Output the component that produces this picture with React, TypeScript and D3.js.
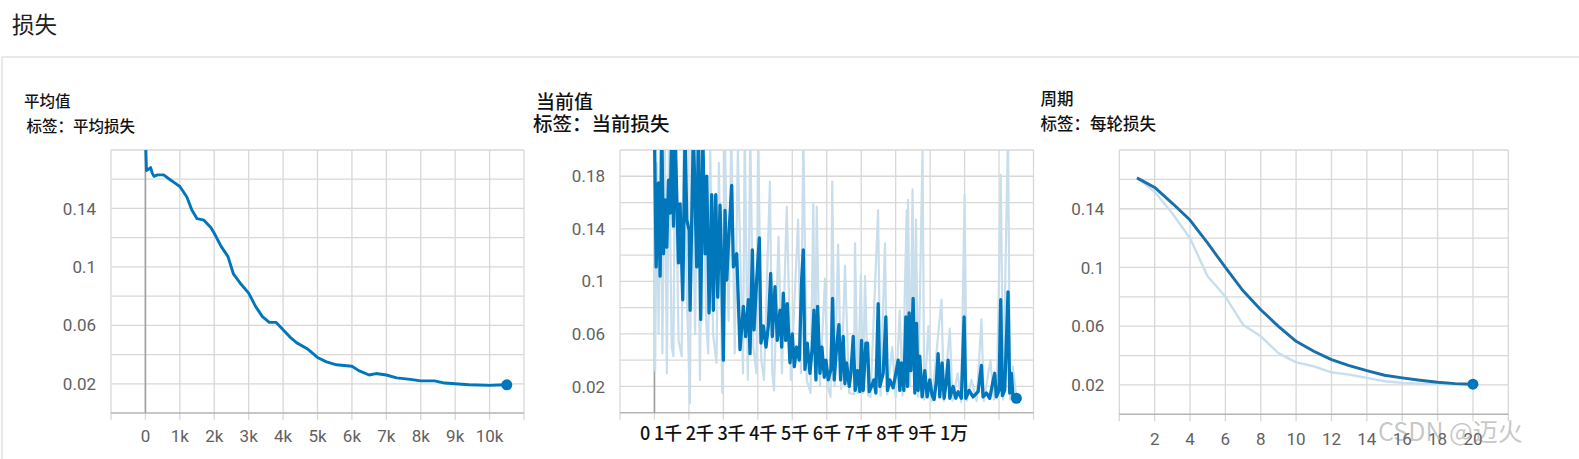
import React from 'react';
import * as d3 from 'd3';

// ---------- data ----------
const avgSteps = [0, 30, 100, 150, 200, 250, 350, 530, 700, 820, 1000, 1200, 1350, 1500, 1700, 1900, 2000, 2200, 2400, 2560, 2750, 3000, 3200, 3400, 3600, 3800, 4000, 4200, 4400, 4700, 5000, 5260, 5550, 6000, 6200, 6500, 6700, 7000, 7300, 7700, 8000, 8400, 8700, 9000, 9400, 10000, 10500];
const avgValues = [0.19, 0.166, 0.167, 0.168, 0.164, 0.162, 0.163, 0.163, 0.16, 0.158, 0.155, 0.148, 0.139, 0.133, 0.132, 0.127, 0.123, 0.114, 0.107, 0.095, 0.089, 0.082, 0.073, 0.066, 0.062, 0.062, 0.057, 0.052, 0.048, 0.044, 0.038, 0.035, 0.033, 0.032, 0.029, 0.026, 0.027, 0.026, 0.024, 0.023, 0.022, 0.022, 0.0205, 0.02, 0.0193, 0.0189, 0.0193];

const curSteps = [0, 48, 116, 164, 213, 261, 309, 357, 406, 454, 502, 551, 599, 696, 744, 821, 889, 937, 1005, 1034, 1130, 1227, 1275, 1343, 1401, 1469, 1517, 1585, 1662, 1710, 1778, 1836, 1903, 1952, 2000, 2048, 2097, 2164, 2241, 2290, 2387, 2483, 2580, 2647, 2725, 2773, 2841, 2889, 2966, 3044, 3092, 3159, 3237, 3304, 3372, 3420, 3498, 3565, 3643, 3691, 3739, 3807, 3855, 3932, 4000, 4058, 4126, 4203, 4271, 4319, 4367, 4435, 4512, 4580, 4628, 4686, 4734, 4802, 4860, 4928, 4976, 5044, 5121, 5169, 5217, 5285, 5353, 5401, 5478, 5527, 5575, 5652, 5701, 5768, 5826, 5894, 5961, 6010, 6058, 6135, 6184, 6232, 6300, 6367, 6425, 6493, 6541, 6638, 6715, 6763, 6831, 6928, 7005, 7073, 7121, 7169, 7237, 7295, 7343, 7391, 7440, 7507, 7556, 7604, 7652, 7700, 7768, 7845, 7913, 7990, 8058, 8116, 8184, 8232, 8280, 8348, 8406, 8473, 8522, 8570, 8667, 8744, 8812, 8908, 8986, 9034, 9131, 9247, 9392, 9488, 9536, 9633, 9730, 9826, 9875, 9923, 10000, 10048, 10097, 10164, 10261, 10309, 10358, 10406, 10503];
const curValues = [0.215, 0.111, 0.175, 0.104, 0.215, 0.121, 0.162, 0.126, 0.177, 0.152, 0.215, 0.142, 0.215, 0.114, 0.159, 0.086, 0.215, 0.147, 0.139, 0.078, 0.215, 0.111, 0.215, 0.071, 0.215, 0.121, 0.18, 0.076, 0.166, 0.078, 0.166, 0.088, 0.158, 0.111, 0.04, 0.154, 0.101, 0.137, 0.173, 0.111, 0.121, 0.048, 0.081, 0.058, 0.086, 0.045, 0.124, 0.063, 0.101, 0.133, 0.053, 0.066, 0.05, 0.066, 0.106, 0.058, 0.096, 0.055, 0.078, 0.05, 0.091, 0.055, 0.083, 0.038, 0.06, 0.035, 0.05, 0.04, 0.101, 0.124, 0.033, 0.053, 0.03, 0.05, 0.078, 0.025, 0.081, 0.03, 0.05, 0.027, 0.04, 0.025, 0.033, 0.087, 0.025, 0.05, 0.067, 0.025, 0.058, 0.022, 0.038, 0.02, 0.03, 0.058, 0.017, 0.032, 0.016, 0.055, 0.017, 0.053, 0.053, 0.016, 0.02, 0.025, 0.015, 0.083, 0.02, 0.03, 0.073, 0.017, 0.025, 0.019, 0.03, 0.04, 0.017, 0.038, 0.017, 0.073, 0.02, 0.076, 0.032, 0.087, 0.015, 0.068, 0.017, 0.043, 0.012, 0.032, 0.012, 0.025, 0.013, 0.01, 0.025, 0.045, 0.012, 0.038, 0.011, 0.025, 0.04, 0.011, 0.02, 0.011, 0.016, 0.011, 0.073, 0.011, 0.017, 0.012, 0.016, 0.036, 0.012, 0.015, 0.011, 0.024, 0.03, 0.012, 0.017, 0.086, 0.013, 0.017, 0.092, 0.015, 0.03, 0.012, 0.011];

const rawSteps = [0, 20, 70, 120, 170, 230, 300, 360, 420, 500, 550, 600, 700, 790, 850, 950, 1030, 1080, 1180, 1250, 1320, 1400, 1500, 1560, 1620, 1700, 1800, 1870, 1970, 2050, 2150, 2230, 2330, 2420, 2570, 2620, 2710, 2780, 2870, 2960, 3010, 3100, 3180, 3350, 3420, 3470, 3600, 3700, 3840, 3960, 4170, 4250, 4320, 4420, 4530, 4610, 4660, 4710, 4800, 4950, 5030, 5110, 5160, 5230, 5330, 5420, 5530, 5650, 5790, 5820, 5900, 5990, 6050, 6110, 6200, 6270, 6490, 6560, 6690, 6750, 6900, 7000, 7120, 7200, 7320, 7340, 7360, 7420, 7490, 7540, 7590, 7650, 7780, 7830, 7950, 8050, 8330, 8400, 8570, 8650, 8800, 8900, 9000, 9060, 9200, 9350, 9490, 9560, 9750, 9850, 9950, 10050, 10120, 10260, 10320, 10400, 10503];
const rawValues = [0.215, 0.032, 0.19, 0.06, 0.215, 0.045, 0.215, 0.03, 0.215, 0.05, 0.043, 0.215, 0.055, 0.043, 0.215, 0.08, 0.007, 0.215, 0.06, 0.215, 0.025, 0.215, 0.07, 0.045, 0.2, 0.06, 0.038, 0.19, 0.015, 0.2, 0.07, 0.215, 0.045, 0.2, 0.03, 0.215, 0.025, 0.215, 0.05, 0.03, 0.215, 0.04, 0.025, 0.176, 0.03, 0.017, 0.134, 0.03, 0.157, 0.025, 0.147, 0.03, 0.215, 0.025, 0.015, 0.159, 0.03, 0.157, 0.02, 0.102, 0.02, 0.012, 0.176, 0.02, 0.128, 0.018, 0.112, 0.015, 0.014, 0.129, 0.015, 0.105, 0.015, 0.104, 0.013, 0.012, 0.154, 0.013, 0.129, 0.014, 0.05, 0.012, 0.078, 0.013, 0.154, 0.02, 0.162, 0.02, 0.17, 0.03, 0.147, 0.012, 0.199, 0.01, 0.066, 0.009, 0.086, 0.009, 0.064, 0.009, 0.03, 0.008, 0.166, 0.009, 0.025, 0.009, 0.071, 0.009, 0.04, 0.01, 0.03, 0.181, 0.01, 0.215, 0.01, 0.035, 0.011];

const epochs = [1, 2, 3, 4, 5, 6, 7, 8, 9, 10, 11, 12, 13, 14, 15, 16, 17, 18, 19, 20];
const epochSmooth = [0.161, 0.1545, 0.1437, 0.1323, 0.1165, 0.1, 0.0841, 0.0712, 0.0599, 0.0497, 0.0429, 0.0372, 0.0331, 0.0297, 0.0266, 0.0248, 0.0232, 0.0218, 0.0209, 0.0205];
const epochRaw = [0.161, 0.1516, 0.1369, 0.1199, 0.0938, 0.0802, 0.061, 0.0531, 0.0417, 0.0354, 0.0327, 0.0286, 0.027, 0.0248, 0.0225, 0.0214, 0.0209, 0.0207, 0.0205, 0.0205];

const avgXTicks = [0, 1000, 2000, 3000, 4000, 5000, 6000, 7000, 8000, 9000, 10000];
const avgXLabels = ['0', '1k', '2k', '3k', '4k', '5k', '6k', '7k', '8k', '9k', '10k'];
const yTicks4 = [0.02, 0.06, 0.1, 0.14];
const yTicks5 = [0.02, 0.06, 0.1, 0.14, 0.18];
const curXLabels = ['0', '1千', '2千', '3千', '4千', '5千', '6千', '7千', '8千', '9千', '1万'];
const epochXTicks = [2, 4, 6, 8, 10, 12, 14, 16, 18, 20];

const DARK = '#0077bb';
const LIGHT = '#c8deec';
const GRID = '#d8d8d8';
const TICKFONT = 'Roboto, "Noto Sans", sans-serif';
const CJK = '"Noto Sans CJK SC", "Noto Sans", sans-serif';

type Line = { xs: number[]; ys: number[]; color: string; width: number };

function Plot(props: {
  id: string; left: number; right: number; top: number; bottom: number;
  xDomain: [number, number]; yDomain: [number, number];
  xGrid: number[]; yGrid: number[]; zeroX: boolean;
  lines: Line[]; xTicks?: number[]; xLabels?: string[]; yTicks: number[]; xLabelY: number;
}) {
  const { id, left, right, top, bottom } = props;
  const x = d3.scaleLinear().domain(props.xDomain).range([left, right]);
  const y = d3.scaleLinear().domain(props.yDomain).range([bottom, top]);
  const gen = (l: Line) =>
    d3.line<number>().x((_, i) => x(l.xs[i])).y((v) => y(v))(l.ys) || '';
  const main = props.lines[props.lines.length - 1];
  const li = main.xs.length - 1;
  return (
    <g>
      <defs>
        <clipPath id={id}>
          <rect x={left} y={top} width={right - left} height={bottom - top} />
        </clipPath>
      </defs>
      {props.yGrid.map((v) => (
        <line key={'h' + v} x1={left} x2={right} y1={y(v)} y2={y(v)} stroke={GRID} strokeWidth={1.3} />
      ))}
      {props.xGrid.map((v) => (
        <line key={'v' + v} x1={x(v)} x2={x(v)} y1={top} y2={bottom + 7} stroke={GRID} strokeWidth={1.3} />
      ))}
      <line x1={left} x2={right} y1={bottom} y2={bottom} stroke="#b5b5b5" strokeWidth={1.6} />
      {props.zeroX && (
        <line x1={x(0)} x2={x(0)} y1={top} y2={bottom} stroke="#a0a0a0" strokeWidth={1.6} />
      )}
      <g clipPath={`url(#${id})`}>
        {props.lines.map((l, i) => (
          <path key={i} d={gen(l)} fill="none" stroke={l.color} strokeWidth={l.width} strokeLinejoin="round" />
        ))}
      </g>
      <circle cx={x(main.xs[li])} cy={y(main.ys[li])} r={5.5} fill={DARK} />
      {props.yTicks.map((v) => (
        <text key={'yl' + v} x={left - 15} y={y(v)} dy="0.36em" textAnchor="end" fontFamily={TICKFONT} fontSize={17} fill="#616161">
          {String(v)}
        </text>
      ))}
      {props.xTicks && props.xLabels && props.xTicks.map((v, i) => (
        <text key={'xl' + v} x={x(v)} y={props.xLabelY} textAnchor="middle" fontFamily={TICKFONT} fontSize={17} fill="#616161">
          {props.xLabels![i]}
        </text>
      ))}
    </g>
  );
}

export default function App() {
  const k1000 = d3.range(-1000, 11001, 1000);
  const g02 = d3.range(1, 10).map((i) => i * 0.02);
  const g02b = d3.range(1, 11).map((i) => i * 0.02);
  const g2 = d3.range(0, 23, 2);
  return (
    <svg width={1579} height={459} style={{ position: 'absolute', left: 0, top: 0, background: '#fff' }}>
      <rect x={0} y={0} width={1579} height={459} fill="#fff" />
      <text x={12} y={32.5} fontFamily={CJK} fontSize={22.5} fill="#212121">损失</text>
      <line x1={2} x2={1579} y1={57} y2={57} stroke="#e2e2e2" strokeWidth={1.5} />
      <line x1={2} x2={2} y1={57} y2={459} stroke="#e2e2e2" strokeWidth={1.5} />

      <text x={24} y={107} fontFamily={CJK} fontSize={15.5} fontWeight={500} fill="#111">平均值</text>
      <text x={26.5} y={132} fontFamily={CJK} fontSize={15.5} fontWeight={500} fill="#111">标签：平均损失</text>
      <text x={536} y={109} fontFamily={CJK} fontSize={19} fontWeight={500} fill="#111">当前值</text>
      <text x={533} y={130.5} fontFamily={CJK} fontSize={19.5} fontWeight={500} fill="#111">标签：当前损失</text>
      <text x={1040.5} y={104.5} fontFamily={CJK} fontSize={16.5} fontWeight={500} fill="#111">周期</text>
      <text x={1040.5} y={130.3} fontFamily={CJK} fontSize={16.5} fontWeight={500} fill="#111">标签：每轮损失</text>

      <Plot id="c1" left={111} right={524} top={150} bottom={413} xDomain={[-1000, 11000]} yDomain={[0, 0.18]}
        xGrid={k1000} yGrid={g02} zeroX={true} yTicks={yTicks4} xTicks={avgXTicks} xLabels={avgXLabels} xLabelY={442}
        lines={[{ xs: avgSteps, ys: avgValues, color: DARK, width: 2.9 }]} />

      <Plot id="c2" left={620} right={1033.5} top={150} bottom={412.7} xDomain={[-1000, 11000]} yDomain={[0, 0.2]}
        xGrid={k1000} yGrid={g02b} zeroX={true} yTicks={yTicks5} xLabelY={0}
        lines={[
          { xs: rawSteps, ys: rawValues, color: LIGHT, width: 2.2 },
          { xs: curSteps, ys: curValues, color: DARK, width: 3.3 },
        ]} />
      <text x={640} y={439.5} fontFamily={CJK} fontSize={18} fontWeight={500} fill="#111" textLength={328} lengthAdjust="spacing">
        {curXLabels.join(' ')}
      </text>

      <Plot id="c3" left={1119.3} right={1508.3} top={150} bottom={414.3} xDomain={[0, 22]} yDomain={[0, 0.18]}
        xGrid={g2} yGrid={g02} zeroX={false} yTicks={yTicks4} xTicks={epochXTicks} xLabels={epochXTicks.map(String)} xLabelY={444.5}
        lines={[
          { xs: epochs, ys: epochRaw, color: LIGHT, width: 2.4 },
          { xs: epochs, ys: epochSmooth, color: '#1a6fa8', width: 2.9 },
        ]} />

      <text x={1378} y={441} fontFamily={CJK} fontSize={25} fill="rgba(130,130,130,0.45)">CSDN @迈火</text>
    </svg>
  );
}
